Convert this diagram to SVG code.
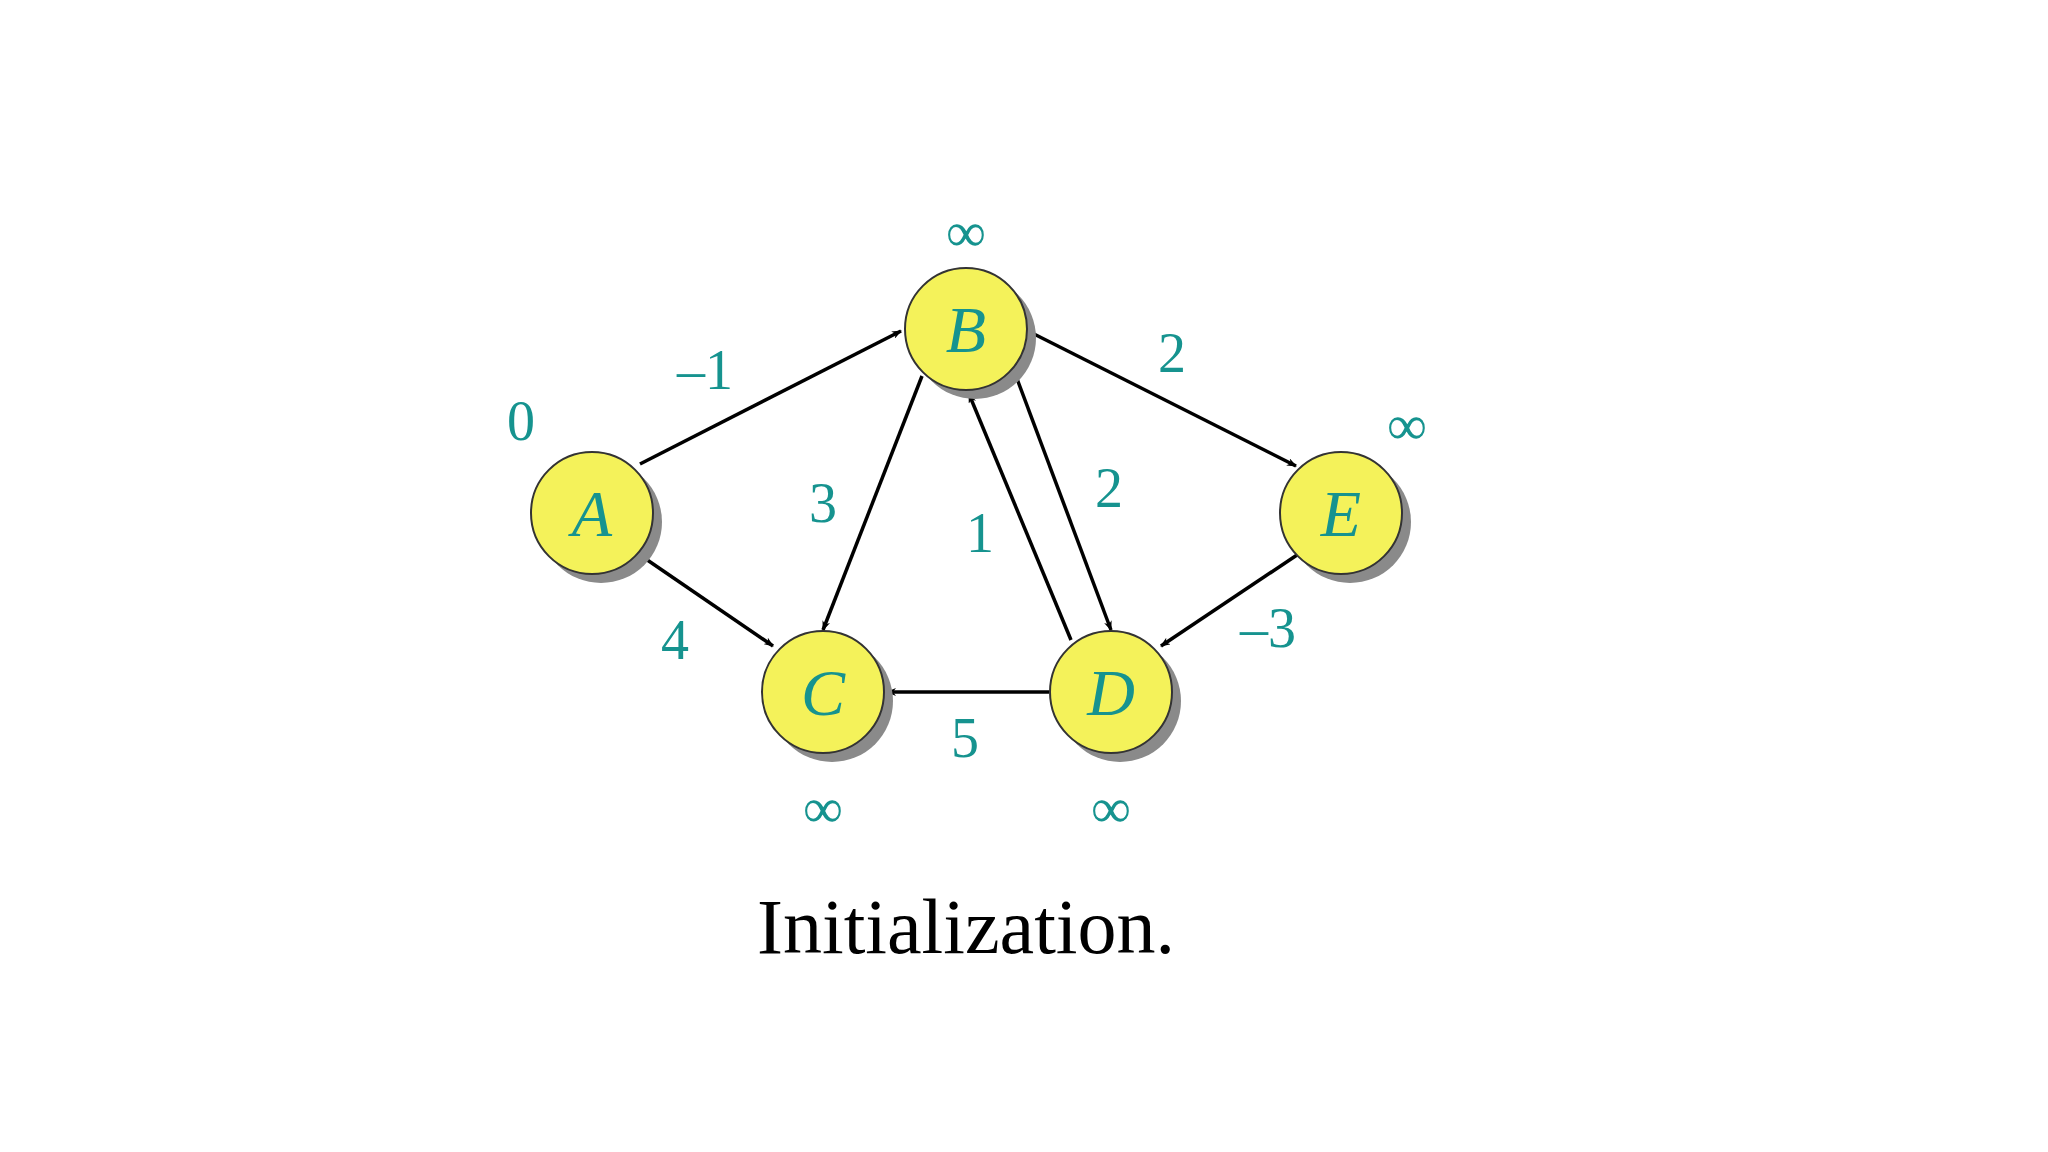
<svg xmlns="http://www.w3.org/2000/svg" width="2048" height="1152" viewBox="0 0 2048 1152">
<defs>
<marker id="ah" markerWidth="10" markerHeight="8" refX="9" refY="4" orient="auto" markerUnits="userSpaceOnUse"><path d="M0,0 L10,4 L0,8 L3,4 Z" fill="#000"/></marker>
<style>
.sh{fill:#8a8a8a}
.nd{fill:#f4f25a;stroke:#333;stroke-width:2}
.nl{font-family:"Liberation Serif",serif;font-style:italic;font-size:66px;fill:#16938f;text-anchor:middle}
.lb{font-family:"Liberation Serif",serif;font-size:56px;fill:#16938f;text-anchor:middle}
.e{stroke:#000;stroke-width:3.5;fill:none;marker-end:url(#ah)}
</style>
</defs>
<rect width="2048" height="1152" fill="#fff"/>
<g id="connectors">
<line class="e" x1="640" y1="464" x2="901" y2="331"/>
<line class="e" x1="640" y1="555" x2="773" y2="646"/>
<line class="e" x1="922" y1="376" x2="823" y2="630"/>
<line class="e" x1="1016" y1="376" x2="1111" y2="630"/>
<line class="e" x1="1071" y1="640" x2="969" y2="394"/>
<line class="e" x1="1032" y1="333" x2="1296" y2="466"/>
<line class="e" x1="1297" y1="555" x2="1161" y2="646"/>
<line class="e" x1="1049" y1="692" x2="887" y2="692"/>
</g>
<g id="A"><circle class="sh" cx="601" cy="522" r="61"/><circle class="nd" cx="592" cy="513" r="61"/><text class="nl" x="592" y="536">A</text></g>
<g id="B"><circle class="sh" cx="975" cy="338" r="61"/><circle class="nd" cx="966" cy="329" r="61"/><text class="nl" x="966" y="352">B</text></g>
<g id="C"><circle class="sh" cx="832" cy="701" r="61"/><circle class="nd" cx="823" cy="692" r="61"/><text class="nl" x="823" y="715">C</text></g>
<g id="D"><circle class="sh" cx="1120" cy="701" r="61"/><circle class="nd" cx="1111" cy="692" r="61"/><text class="nl" x="1111" y="715">D</text></g>
<g id="E"><circle class="sh" cx="1350" cy="522" r="61"/><circle class="nd" cx="1341" cy="513" r="61"/><text class="nl" x="1341" y="536">E</text></g>
<g id="labels">
<text class="lb" x="521" y="440">0</text>
<text class="lb" x="966" y="251">∞</text>
<text class="lb" x="1407" y="444">∞</text>
<text class="lb" x="823" y="827">∞</text>
<text class="lb" x="1111" y="827">∞</text>
<text class="lb" x="705" y="389">–1</text>
<text class="lb" x="1172" y="372">2</text>
<text class="lb" x="823" y="522">3</text>
<text class="lb" x="980" y="552">1</text>
<text class="lb" x="1109" y="507">2</text>
<text class="lb" x="675" y="659">4</text>
<text class="lb" x="1268" y="647">–3</text>
<text class="lb" x="965" y="757">5</text>
<text x="966" y="953" font-family="Liberation Serif, serif" font-size="78" text-anchor="middle" fill="#000">Initialization.</text>
</g>
</svg>
